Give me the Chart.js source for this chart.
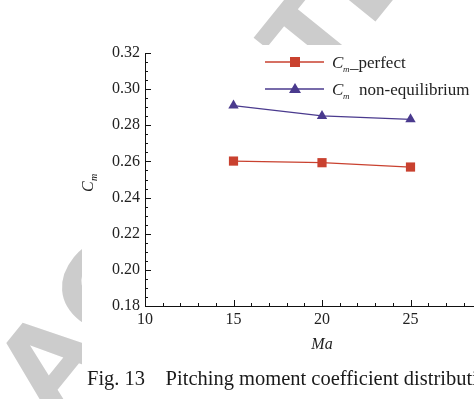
<!DOCTYPE html>
<html><head><meta charset="utf-8">
<script src="https://cdn.jsdelivr.net/npm/chart.js@4/dist/chart.umd.min.js"></script>
<style>
html,body{margin:0;padding:0;background:#fff;overflow:hidden;width:474px;height:399px;}
#wrap{position:relative;width:540px;height:399px;}
</style></head>
<body><div id="wrap"><canvas id="c" width="540" height="399"></canvas></div>
<script>
const machNumbers = [15, 20, 25];
const cmPerfect = [0.2602, 0.2593, 0.2569];
const cmNonEquilibrium = [0.2909, 0.2852, 0.2833];
const xTicks = [10, 15, 20, 25, 30];
const yTicks = [0.18, 0.20, 0.22, 0.24, 0.26, 0.28, 0.30, 0.32];
const seriesNames = ['perfect', 'non-equilibrium'];
const captionText = 'Fig. 13    Pitching moment coefficient distribution';

const RED = '#c9412f', PURPLE = '#4a3a8e';
const SERIF = '"Liberation Serif", "DejaVu Serif", serif';

const bgPlugin = {
  id: 'bg',
  beforeDraw(chart) {
    const ctx = chart.ctx;
    ctx.save();
    ctx.fillStyle = '#fff';
    ctx.fillRect(0, 0, chart.width, chart.height);
    // watermark
    ctx.fillStyle = '#cccccc';
    ctx.translate(52, 421);
    ctx.rotate(-51 * Math.PI / 180);
    ctx.font = 'bold 116px "DejaVu Sans", sans-serif';
    ctx.textBaseline = 'alphabetic';
    ctx.fillText('ACCEPTED', 0, 0);
    ctx.restore();
    ctx.save();
    ctx.fillStyle = '#fff';
    ctx.fillRect(82, 45, chart.width, chart.height);
    ctx.restore();
  }
};

const decoPlugin = {
  id: 'deco',
  afterDraw(chart) {
    const ctx = chart.ctx;
    const xs = chart.scales.x, ys = chart.scales.y;
    const left = xs.left, bottom = ys.bottom;
    ctx.save();
    ctx.strokeStyle = '#111';
    ctx.lineWidth = 1;
    ctx.beginPath();
    for (let v = 180; v <= 320; v += 5) {
      const y = Math.round(ys.getPixelForValue(v / 1000)) + 0.5;
      const len = (v % 20 === 0) ? 6 : 3;
      ctx.moveTo(left, y); ctx.lineTo(left + len, y);
    }
    for (let v = 10; v <= 30; v += 1) {
      const x = Math.round(xs.getPixelForValue(v)) + 0.5;
      const len = (v % 5 === 0) ? 6 : 3;
      ctx.moveTo(x, bottom); ctx.lineTo(x, bottom - len);
    }
    ctx.stroke();

    // axis titles
    ctx.fillStyle = '#222';
    ctx.save();
    ctx.translate(93, 184);
    ctx.rotate(-Math.PI / 2);
    ctx.font = 'italic 16px ' + SERIF;
    ctx.textBaseline = 'alphabetic';
    ctx.textAlign = 'left';
    ctx.fillText('C', -8, 0);
    ctx.font = 'italic 10px ' + SERIF;
    ctx.fillText('m', 3, 4);
    ctx.restore();

    ctx.font = 'italic 16px ' + SERIF;
    ctx.textAlign = 'center';
    ctx.textBaseline = 'middle';
    ctx.fillText('Ma', xs.getPixelForValue(20), 345);

    // caption
    ctx.font = '20.5px ' + SERIF;
    ctx.textAlign = 'left';
    ctx.textBaseline = 'alphabetic';
    ctx.fillStyle = '#1a1a1a';
    ctx.fillText(captionText, 87, 385);

    // legend
    const items = [
      {name: seriesNames[0], color: RED, shape: 'rect', y: 62, sep: '_'},
      {name: seriesNames[1], color: PURPLE, shape: 'tri', y: 89, sep: ' '}
    ];
    items.forEach(it => {
      ctx.strokeStyle = it.color;
      ctx.lineWidth = 1.3;
      ctx.beginPath();
      ctx.moveTo(265, it.y); ctx.lineTo(324, it.y);
      ctx.stroke();
      ctx.fillStyle = it.color;
      if (it.shape === 'rect') {
        ctx.fillRect(290, it.y - 5, 10, 10);
      } else {
        ctx.beginPath();
        ctx.moveTo(295, it.y - 6); ctx.lineTo(301, it.y + 4); ctx.lineTo(289, it.y + 4);
        ctx.closePath(); ctx.fill();
      }
      ctx.fillStyle = '#222';
      ctx.textAlign = 'left';
      ctx.textBaseline = 'alphabetic';
      ctx.font = 'italic 17px ' + SERIF;
      ctx.fillText('C', 332, it.y + 6);
      ctx.font = 'italic 9px ' + SERIF;
      ctx.fillText('m', 343, it.y + 10);
      ctx.font = '17px ' + SERIF;
      if (it.sep === '_') {
        ctx.fillText('_' + it.name, 350, it.y + 6);
      } else {
        ctx.fillText(it.name, 359, it.y + 6);
      }
    });
    ctx.restore();
  }
};

new Chart(document.getElementById('c'), {
  type: 'line',
  data: {
    datasets: [
      {
        label: seriesNames[0],
        data: machNumbers.map((m, i) => ({x: m, y: cmPerfect[i]})),
        borderColor: RED, backgroundColor: RED, borderWidth: 1.3,
        pointStyle: 'rect', pointRadius: 6.5, pointBorderWidth: 0, tension: 0
      },
      {
        label: seriesNames[1],
        data: machNumbers.map((m, i) => ({x: m, y: cmNonEquilibrium[i]})),
        borderColor: PURPLE, backgroundColor: PURPLE, borderWidth: 1.3,
        pointStyle: 'triangle', pointRadius: 6, pointBorderWidth: 0, tension: 0
      }
    ]
  },
  options: {
    responsive: false,
    animation: false,
    events: [],
    layout: {padding: {left: 0, top: 53, right: 41, bottom: 63}},
    plugins: {legend: {display: false}, tooltip: {enabled: false}},
    scales: {
      x: {
        type: 'linear', min: 10, max: 30,
        afterBuildTicks: s => { s.ticks = xTicks.map(v => ({value: v})); },
        afterFit: s => { s.height = 30; },
        grid: {display: true, drawOnChartArea: false, drawTicks: false},
        border: {display: true, color: '#111', width: 1},
        ticks: {padding: 4, color: '#222', font: {family: SERIF, size: 16}, maxRotation: 0}
      },
      y: {
        type: 'linear', min: 0.18, max: 0.32,
        afterBuildTicks: s => { s.ticks = yTicks.map(v => ({value: v})); },
        afterFit: s => { s.width = 145; },
        grid: {display: true, drawOnChartArea: false, drawTicks: false},
        border: {display: true, color: '#111', width: 1},
        ticks: {padding: 5, color: '#222', font: {family: SERIF, size: 16},
          callback: v => v.toFixed(2)}
      }
    }
  },
  plugins: [bgPlugin, decoPlugin]
});
</script>
</body></html>
